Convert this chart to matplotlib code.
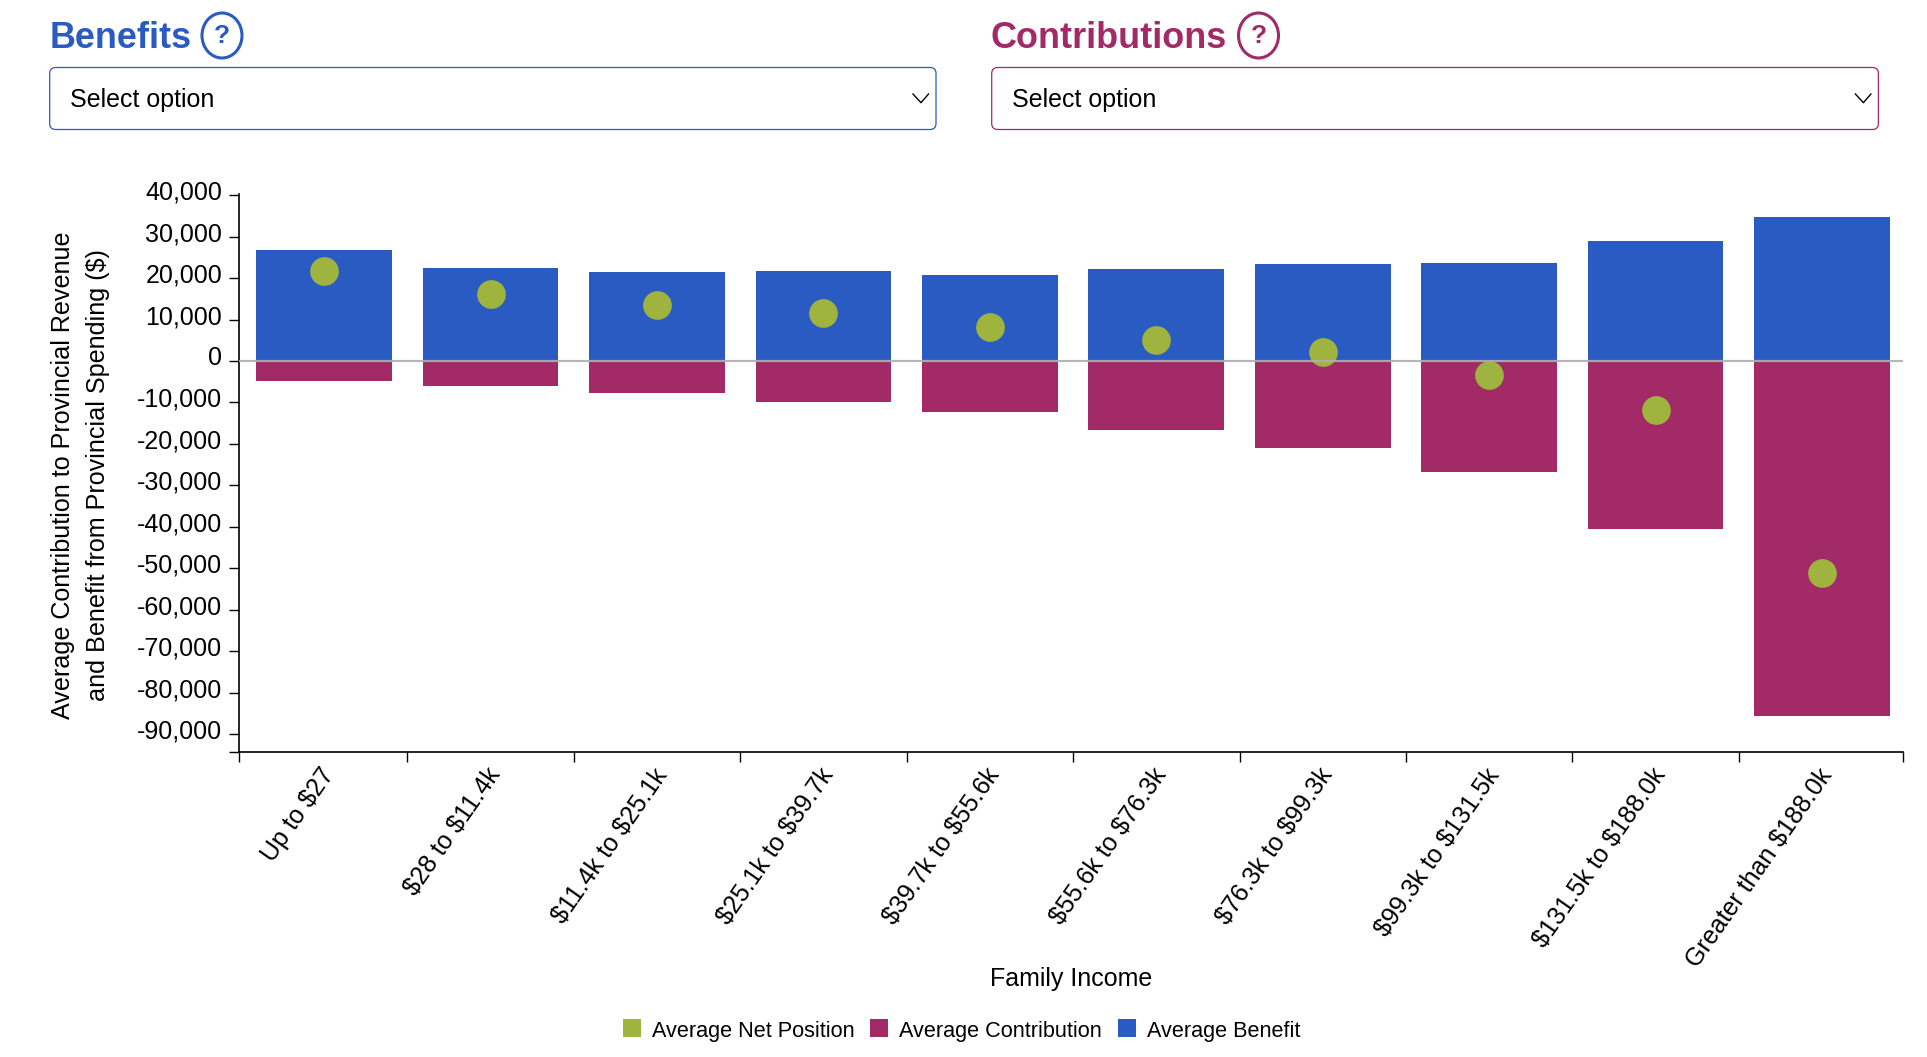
import matplotlib
matplotlib.use('Agg')
import matplotlib.pyplot as plt
from matplotlib.patches import FancyBboxPatch, Ellipse, Rectangle
from matplotlib.transforms import ScaledTranslation

plt.rcParams['font.family'] = ['Liberation Sans', 'DejaVu Sans']
plt.rcParams['text.parse_math'] = False

# values
income_groups = ['Up to $27', '$28 to $11.4k', '$11.4k to $25.1k', '$25.1k to $39.7k',
                 '$39.7k to $55.6k', '$55.6k to $76.3k', '$76.3k to $99.3k',
                 '$99.3k to $131.5k', '$131.5k to $188.0k', 'Greater than $188.0k']
benefit = [26790, 22440, 21480, 21720, 20750, 22200, 23410, 23650, 28960, 34750]
contribution = [-4830, -6030, -7720, -9890, -12310, -16650, -20990, -26790, -40540, -85670]
net_position = [21790, 16100, 13440, 11510, 8130, 5070, 2170, -3310, -11900, -51230]
y_ticks = list(range(40000, -100000, -10000))

BLUE = '#2a5bc2'
MAROON = '#a22a66'
GREEN = '#9fb33f'

W, H = 1927, 1057
fig = plt.figure(figsize=(W / 100, H / 100), dpi=100)

# chart area in pixels
left, right, top, bottom = 238.5, 1903, 193.8, 752
ax = fig.add_axes([left / W, 1 - bottom / H, (right - left) / W, (bottom - top) / H])

# the bands sit a little right of the axis start
band_shift = 0.014
x = [i + 0.5 + band_shift for i in range(len(income_groups))]
ax.bar(x, benefit, width=0.815, color=BLUE, zorder=2)
ax.bar(x, contribution, width=0.815, color=MAROON, zorder=2)
ax.scatter(x, net_position, s=427, color=GREEN, linewidths=0, zorder=3)
ax.axhline(0, color='#b0b0b0', lw=1.6, alpha=0.9, zorder=4)

ax.set_xlim(0, 10)
ax.set_ylim(-94350, 40340)
for side in ['top', 'right']:
    ax.spines[side].set_visible(False)
for side in ['left', 'bottom']:
    ax.spines[side].set_linewidth(1.2)

ax.set_yticks(y_ticks + [-94350])
ax.set_yticklabels([f'{v:,}' for v in y_ticks] + [''], fontsize=18)
ax.tick_params(axis='y', length=7.2, width=1.0, pad=4.5)
for label in ax.get_yticklabels():
    label.set_transform(label.get_transform() + ScaledTranslation(0, 0.05, fig.dpi_scale_trans))

ax.set_xticks([0] + [i + band_shift for i in range(1, 10)] + [10])
ax.set_xticklabels([])
ax.tick_params(axis='x', which='major', length=7.2, width=1.0)
ax.set_xticks(x, minor=True)
ax.set_xticklabels(income_groups, minor=True, rotation=55, ha='right', va='center',
                   rotation_mode='anchor', fontsize=18)
ax.tick_params(axis='x', which='minor', length=0, pad=13.5)
for label in ax.get_xticklabels(minor=True):
    label.set_transform(label.get_transform() + ScaledTranslation(0.05, 0, fig.dpi_scale_trans))

# everything around the chart, placed in pixels
ui = fig.add_axes([0, 0, 1, 1])
ui.set_xlim(0, W)
ui.set_ylim(H, 0)
ui.axis('off')
ui.patch.set_alpha(0)

ui.text(80.5, 475, 'Average Contribution to Provincial Revenue\nand Benefit from Provincial Spending ($)',
        rotation=90, ha='center', va='center', fontsize=18.1, linespacing=1.6, multialignment='center')
ui.text(1071, 979, 'Family Income', ha='center', va='center', fontsize=18)

for title, colour, tx, cx, x0, x1 in [('Benefits', BLUE, 50, 222, 49.7, 936),
                                      ('Contributions', MAROON, 991, 1258.5, 991.7, 1878.4)]:
    ui.text(tx, 38.5, title, color=colour, fontsize=25.9, fontweight='bold', ha='left', va='center')
    ui.add_patch(Ellipse((cx, 35.5), 40, 45, fill=False, edgecolor=colour, lw=2.2))
    ui.text(cx, 36, '?', color=colour, fontsize=19, fontweight='bold', ha='center', va='center')
    ui.add_patch(FancyBboxPatch((x0 + 5, 72.5), x1 - x0 - 10, 52, boxstyle='round,pad=5,rounding_size=6',
                                fill=False, edgecolor=colour, lw=0.9))
    ui.text(x0 + 20, 100.5, 'Select option', fontsize=18, ha='left', va='center')
    ui.plot([x1 - 23, x1 - 15, x1 - 7.5], [94, 102.7, 94], color='black', lw=1.0)

for name, colour, sx, tx in [('Average Net Position', GREEN, 623, 652),
                             ('Average Contribution', MAROON, 870, 899),
                             ('Average Benefit', BLUE, 1118, 1147)]:
    ui.add_patch(Rectangle((sx, 1019), 18.4, 17.7, color=colour, lw=0))
    ui.text(tx, 1032, name, fontsize=15.6, ha='left', va='center')

fig.savefig('out.png', dpi=100)
